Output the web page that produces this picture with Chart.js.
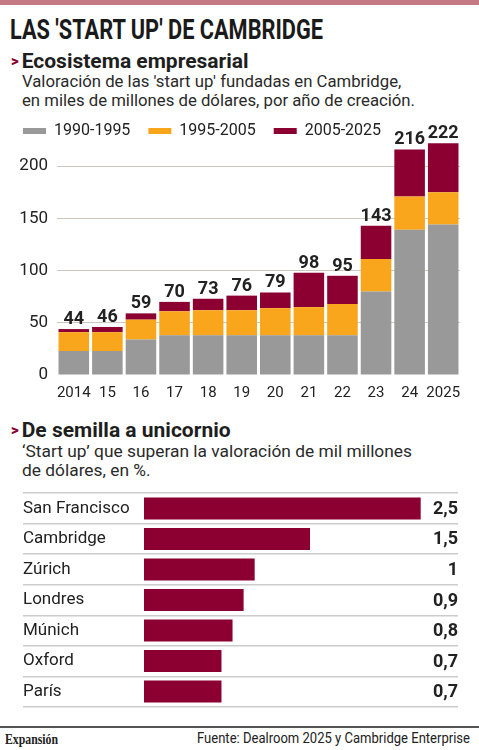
<!DOCTYPE html>
<html lang="es">
<head>
<meta charset="utf-8">
<script src="https://cdn.jsdelivr.net/npm/chart.js@4.4.1/dist/chart.umd.min.js"></script>
<style>
  body { margin: 0; background: #fff; }
  #page { position: relative; width: 479px; height: 750px; overflow: hidden; font-family: Roboto, sans-serif; color: #222; }
  .band { position: absolute; left: 0; top: 0; width: 479px; height: 5px; background: #c47a82; }
  .fit { position: absolute; white-space: nowrap; transform-origin: 0 0; }
  .title { left: 10px; top: 14px; font-weight: bold; font-size: 28px; line-height: 32px; color: #1a1a1a; }
  .head { position: absolute; left: 11px; font-weight: bold; font-size: 21px; line-height: 24px; color: #1e1e1e; white-space: nowrap; }
  .head b { color: #8b0030; font-size: 15px; margin-right: 3px; position: relative; top: -2px; }
  .desc { left: 22px; font-size: 17px; line-height: 19px; color: #2a2a2a; }
  canvas { position: absolute; left: 0; }
  #stack { top: 100px; }
  #unicorn { top: 480px; }
  .foot-line { position: absolute; left: 0; top: 726px; width: 479px; height: 2px; background: #555; }
  .brand { left: 5px; top: 731px; font-family: "Liberation Serif", serif; font-weight: bold; font-size: 14px; line-height: 18px; color: #222; }
  .source { left: 197px; top: 729px; font-size: 15px; line-height: 18px; color: #222; }
</style>
</head>
<body>
<div id="page">
  <div class="band"></div>
  <div class="fit title" data-w="313">LAS 'START UP' DE CAMBRIDGE</div>
  <div class="head" style="top:49px"><b>&gt;</b>Ecosistema empresarial</div>
  <div class="fit desc" style="top:72px" data-w="393">Valoración de las 'start up' fundadas en Cambridge,<br>en miles de millones de dólares, por año de creación.</div>
  <canvas id="stack" width="479" height="308"></canvas>

  <div class="head" style="top:418px"><b>&gt;</b>De semilla a unicornio</div>
  <div class="fit desc" style="top:442px" data-w="390">‘Start up’ que superan la valoración de mil millones<br>de dólares, en %.</div>
  <canvas id="unicorn" width="479" height="240"></canvas>

  <div class="foot-line"></div>
  <div class="fit brand" data-w="53">Expansión</div>
  <div class="fit source" data-w="273">Fuente: Dealroom 2025 y Cambridge Enterprise</div>
</div>

<script>
// Valoración por año de creación (miles de millones de dólares)
const years = ['2014', '15', '16', '17', '18', '19', '20', '21', '22', '23', '24', '2025'];
const founded1990 = [23, 23, 34, 38, 38, 38, 38, 38, 38, 80, 139, 144];
const founded1995 = [18, 18, 19, 23, 24, 24, 26, 27, 30, 31, 32, 31];
const founded2005 = [3, 5, 6, 9, 11, 14, 15, 33, 27, 32, 45, 47];
const yearTotals = [44, 46, 59, 70, 73, 76, 79, 98, 95, 143, 216, 222];
const seriesNames = ['1990-1995', '1995-2005', '2005-2025'];
const yTicks = [0, 50, 100, 150, 200];

// Start up que superan los 1.000 millones, en %
const cities = ['San Francisco', 'Cambridge', 'Zúrich', 'Londres', 'Múnich', 'Oxford', 'París'];
const unicornPct = [2.5, 1.5, 1, 0.9, 0.8, 0.7, 0.7];

const GRAY = '#999999';
const ORANGE = '#f9a61c';
const WINE = '#8b0030';
const TEXT = '#222222';

const fmt = v => String(v).replace('.', ',');

// squeeze condensed-looking text blocks to the reference widths
document.querySelectorAll('.fit').forEach(el => {
    const w = el.getBoundingClientRect().width;
    el.style.transform = 'scaleX(' + (Number(el.dataset.w) / w) + ')';
});

// totals above each stacked bar
const totalsPlugin = {
    id: 'totals',
    afterDatasetsDraw(chart) {
        const { ctx } = chart;
        const meta = chart.getDatasetMeta(chart.data.datasets.length - 1);
        const y = chart.scales.y;
        ctx.save();
        ctx.font = 'bold 18px Roboto';
        ctx.fillStyle = TEXT;
        ctx.textAlign = 'center';
        ctx.textBaseline = 'alphabetic';
        yearTotals.forEach((t, i) => {
            ctx.fillText(String(t), meta.data[i].x, y.getPixelForValue(t) - 5);
        });
        ctx.restore();
    }
};

new Chart(document.getElementById('stack'), {
    type: 'bar',
    data: {
        labels: years,
        datasets: [
            { label: seriesNames[0], data: founded1990, backgroundColor: GRAY },
            { label: seriesNames[1], data: founded1995, backgroundColor: ORANGE },
            { label: seriesNames[2], data: founded2005, backgroundColor: WINE }
        ]
    },
    options: {
        responsive: false,
        animation: false,
        events: [],
        layout: { padding: { left: 5, right: 19, top: 5, bottom: 8 } },
        datasets: { bar: { barPercentage: 0.91, categoryPercentage: 1, borderWidth: 0 } },
        scales: {
            x: {
                stacked: true,
                grid: { display: false, drawTicks: false },
                border: { display: false },
                ticks: { color: TEXT, font: { family: 'Roboto', size: 15 }, padding: 9, maxRotation: 0, autoSkip: false },
                afterFit: s => { s.height = 25; }
            },
            y: {
                stacked: true,
                min: 0,
                max: 225,
                border: { display: false },
                grid: {
                    drawTicks: false,
                    color: c => (c.tick && c.tick.value === 0 ? 'rgba(0,0,0,0)' : '#cfc6bd')
                },
                afterBuildTicks: s => { s.ticks = yTicks.map(v => ({ value: v })); },
                ticks: { color: TEXT, font: { family: 'Roboto', size: 17 }, padding: 9 },
                afterFit: s => { s.width = 52; }
            }
        },
        plugins: {
            legend: {
                align: 'start',
                maxHeight: 35,
                labels: {
                    boxWidth: 23,
                    boxHeight: 6,
                    padding: 18,
                    color: TEXT,
                    font: { family: 'Roboto', size: 16 }
                }
            },
            tooltip: { enabled: false }
        }
    },
    plugins: [totalsPlugin]
});

// values on the right of each row
const valuesPlugin = {
    id: 'values',
    afterDatasetsDraw(chart) {
        const { ctx, chartArea } = chart;
        const meta = chart.getDatasetMeta(0);
        ctx.save();
        ctx.font = 'bold 18px Roboto';
        ctx.fillStyle = TEXT;
        ctx.textAlign = 'right';
        ctx.textBaseline = 'middle';
        unicornPct.forEach((v, i) => {
            ctx.fillText(fmt(v), chartArea.right, meta.data[i].y + 1);
        });
        ctx.restore();
    }
};

new Chart(document.getElementById('unicorn'), {
    type: 'bar',
    data: {
        labels: cities,
        datasets: [{ data: unicornPct, backgroundColor: WINE, borderWidth: 0 }]
    },
    options: {
        indexAxis: 'y',
        responsive: false,
        animation: false,
        events: [],
        layout: { padding: { left: 23, right: 21, top: 12, bottom: 9 } },
        datasets: { bar: { barPercentage: 0.72, categoryPercentage: 1 } },
        scales: {
            x: { display: false, min: 0, max: 2.837 },
            y: {
                border: { display: false },
                grid: { offset: true, color: '#cccccc', lineWidth: 1.5, tickLength: 121 },
                ticks: { color: TEXT, crossAlign: 'far', font: { family: 'Roboto', size: 17 } },
                afterFit: s => { s.width = 121; }
            }
        },
        plugins: {
            legend: { display: false },
            tooltip: { enabled: false }
        }
    },
    plugins: [valuesPlugin]
});
</script>
</body>
</html>
